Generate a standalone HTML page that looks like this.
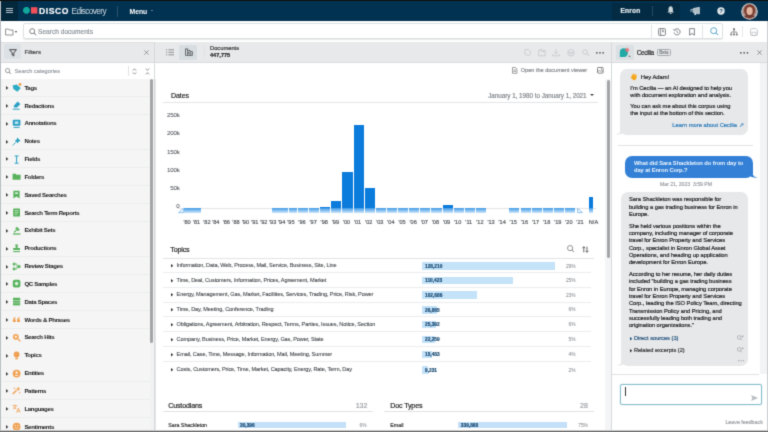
<!DOCTYPE html>
<html><head><meta charset="utf-8"><title>DISCO Ediscovery</title>
<style>
*{box-sizing:border-box;margin:0;padding:0}
html,body{width:768px;height:432px;overflow:hidden;background:#fff}
body{font-family:"Liberation Sans",sans-serif;position:relative;color:#222;font-size:6px}
.a{position:absolute}
.t{position:absolute;white-space:nowrap;line-height:1;-webkit-text-stroke:0.18px currentColor}
svg{position:absolute;overflow:visible}
#w{position:absolute;left:0;top:0;width:768px;height:432px;overflow:hidden;filter:url(#bl)}
</style></head><body><svg width="0" height="0" style="position:absolute"><filter id="bl" x="0" y="0" width="100%" height="100%" color-interpolation-filters="sRGB"><feConvolveMatrix order="3" kernelMatrix="0.0196 0.1008 0.0196 0.1008 0.5184 0.1008 0.0196 0.1008 0.0196" divisor="1" edgeMode="duplicate" preserveAlpha="true"/></filter></svg><div id="w">
<div class="a" style="left:0px;top:0px;width:768px;height:1px;background:#111;"></div>
<div class="a" style="left:0px;top:1px;width:768px;height:20px;background:#023251;"></div>
<div class="a" style="left:1px;top:1px;width:17px;height:20px;background:#03273b;"></div>
<div class="a" style="left:0px;top:1px;width:1px;height:431px;background:#b9bec2;"></div>
<div class="a" style="left:6px;top:8.2px;width:6.6px;height:0.9px;background:#b4c3cc;"></div>
<div class="a" style="left:6px;top:10.3px;width:6.6px;height:0.9px;background:#b4c3cc;"></div>
<div class="a" style="left:6px;top:12.4px;width:6.6px;height:0.9px;background:#b4c3cc;"></div>
<svg style="left:23px;top:7px" width="15" height="7" viewBox="0 0 15 7"><polygon points="2.1,0.1 4.8,0.1 6.8,2.1 6.8,4.8 4.8,6.8 2.1,6.8 0.1,4.8 0.1,2.1" fill="#12a79c"/><rect x="8" y="0.2" width="6.4" height="6.4" fill="#f0505a"/></svg>
<div class="t" style="left:39px;top:7px;font-size:8.6px;color:#fff;font-weight:bold;letter-spacing:0.55px">DISCO</div>
<div class="t" style="left:71.5px;top:7px;font-size:8.3px;color:#d3dde4;letter-spacing:-0.6px;-webkit-text-stroke:0">Ediscovery</div>
<div class="a" style="left:117.4px;top:5.5px;width:0.8px;height:11.5px;background:#2a526d;"></div>
<div class="t" style="left:129.5px;top:9px;font-size:6.8px;color:#fff;font-weight:bold;-webkit-text-stroke:0">Menu</div>
<div class="a" style="left:150.8px;top:10.4px;width:0;height:0;border-top:1.7px solid #b9c6cf;border-left:1.6px solid transparent;border-right:1.6px solid transparent"></div>
<div class="a" style="left:612px;top:3px;width:68px;height:17px;background:#042b44;border-radius:2px"></div>
<div class="t" style="left:620.5px;top:8px;font-size:6.6px;color:#e9eef2;font-weight:bold;letter-spacing:0.2px">Enron</div>
<div class="a" style="left:651.5px;top:6px;width:0.8px;height:10px;background:#254d68;"></div>
<svg style="left:666.5px;top:6.4px" width="7.4" height="8.6" viewBox="0 0 7.4 8.6"><path d="M3.7 0.3 C2.1 0.3 1.5 1.8 1.5 3.3 L1.5 5.2 L0.5 6.5 L6.9 6.5 L5.9 5.2 L5.9 3.3 C5.9 1.8 5.3 0.3 3.7 0.3 Z" fill="#cdd7dd"/><rect x="2.8" y="7" width="1.8" height="1.1" rx="0.55" fill="#cdd7dd"/></svg>
<svg style="left:690px;top:6.5px" width="11" height="9" viewBox="0 0 11 9"><path d="M3.2 1.6 L9.4 0.3 L9.4 6.9 L3.2 5.6 Z" fill="#aebcc6" stroke="#d5dee4" stroke-width="0.7"/><rect x="0.6" y="2" width="2.2" height="0.8" fill="#cdd7dd"/><rect x="0" y="3.6" width="2.8" height="0.8" fill="#cdd7dd"/><rect x="4.4" y="5.8" width="1.8" height="2.2" fill="#cdd7dd"/></svg>
<svg style="left:717px;top:7px" width="8" height="8" viewBox="0 0 8 8"><circle cx="4" cy="4" r="3.7" fill="#e3e9ed"/><text x="4" y="6.2" font-size="6" font-weight="bold" text-anchor="middle" fill="#05334f" font-family="Liberation Sans">?</text></svg>
<svg style="left:741px;top:2.5px" width="17" height="17" viewBox="0 0 17 17"><defs><clipPath id="av"><circle cx="8.5" cy="8.5" r="7.4"/></clipPath></defs><circle cx="8.5" cy="8.5" r="8.3" fill="#d9d9db"/><g clip-path="url(#av)"><rect width="17" height="17" fill="#a98f8c"/><ellipse cx="8.6" cy="7.4" rx="5.6" ry="6.2" fill="#7c3d2f"/><path d="M2 17 Q3 11 8.5 11.5 Q14 11 15 17 Z" fill="#6f3a30"/><ellipse cx="8.6" cy="8" rx="3.1" ry="3.9" fill="#e3b7a3"/><path d="M5.6 14 Q8.6 17 11.6 14 L12.5 17 H4.6 Z" fill="#d9b3a6"/></g></svg>
<div class="a" style="left:1px;top:21px;width:767px;height:21px;background:#fff;"></div>
<svg style="left:5px;top:27.5px" width="9" height="8" viewBox="0 0 9 8"><path d="M0.6 1 L3.4 1 L4.2 2 L8 2 L8 7 L0.6 7 Z" fill="none" stroke="#666" stroke-width="0.7"/></svg>
<div class="a" style="left:15px;top:30.8px;width:0;height:0;border-top:2.2px solid #444;border-left:1.9px solid transparent;border-right:1.9px solid transparent"></div>
<div class="a" style="left:23px;top:23.4px;width:699.5px;height:15.2px;background:#fff;border:0.8px solid #dde1e4;border-radius:2.5px;box-shadow:0 0.5px 1.2px rgba(0,0,0,.10)"></div>
<svg style="left:29px;top:27.5px" width="8" height="8" viewBox="0 0 8 8"><circle cx="3.2" cy="3.2" r="2.5" fill="none" stroke="#666" stroke-width="0.8"/><path d="M5 5 L7.3 7.3" stroke="#666" stroke-width="0.9"/></svg>
<div class="t" style="left:38px;top:29px;font-size:6.6px;color:#8d9399;">Search documents</div>
<div class="a" style="left:651px;top:24.6px;width:0.7px;height:13.2px;background:#e1e4e7;"></div>
<div class="a" style="left:702.3px;top:24.6px;width:0.7px;height:13.2px;background:#e1e4e7;"></div>
<div class="a" style="left:742px;top:26px;width:0.7px;height:11px;background:#e6e8ea;"></div>
<svg style="left:657.5px;top:27.5px" width="8" height="8" viewBox="0 0 8 8"><rect x="0.6" y="0.6" width="6.8" height="6.8" rx="0.8" fill="none" stroke="#62676c" stroke-width="0.8"/><path d="M2.6 0.6 V7.4 M4 2.2 H6 M4 3.6 H6" stroke="#62676c" stroke-width="0.7" fill="none"/></svg>
<svg style="left:673px;top:27.5px" width="8" height="8" viewBox="0 0 8 8"><path d="M1.4 2.2 A3.1 3.1 0 1 1 1 4.5" fill="none" stroke="#62676c" stroke-width="0.8"/><path d="M0.3 1.2 L1.5 2.6 L3 1.6" fill="none" stroke="#62676c" stroke-width="0.7"/><path d="M4 2.4 V4.2 L5.2 5" fill="none" stroke="#62676c" stroke-width="0.7"/></svg>
<svg style="left:688.5px;top:27.5px" width="6" height="8" viewBox="0 0 6 8"><path d="M0.6 0.6 H5.4 V7.2 L3 5.4 L0.6 7.2 Z" fill="none" stroke="#62676c" stroke-width="0.8"/></svg>
<svg style="left:709.5px;top:27px" width="9" height="9" viewBox="0 0 9 9"><circle cx="3.7" cy="3.7" r="3" fill="none" stroke="#4a9dc4" stroke-width="0.9"/><path d="M5.8 5.8 L8.2 8.2" stroke="#4a9dc4" stroke-width="1"/></svg>
<svg style="left:729.5px;top:27.5px" width="8" height="8" viewBox="0 0 8 8"><rect x="3" y="0.3" width="2" height="2" fill="#777"/><path d="M4 2.3 V4 M1.2 5.6 V4 H6.8 V5.6 M4 4 V5.6" stroke="#777" stroke-width="0.7" fill="none"/><rect x="0.3" y="5.6" width="1.8" height="1.8" fill="#777"/><rect x="3.1" y="5.6" width="1.8" height="1.8" fill="#777"/><rect x="5.9" y="5.6" width="1.8" height="1.8" fill="#777"/></svg>
<svg style="left:749.5px;top:27.5px" width="8" height="8" viewBox="0 0 8 8"><path d="M0.6 1.4 Q0.6 0.6 1.4 0.6 H5.8 L7.4 2.2 V6.6 Q7.4 7.4 6.6 7.4 H1.4 Q0.6 7.4 0.6 6.6 Z" fill="none" stroke="#b6bbc0" stroke-width="0.8"/><rect x="2" y="4.2" width="4" height="3.2" fill="none" stroke="#b6bbc0" stroke-width="0.7"/></svg>
<div class="a" style="left:1px;top:42px;width:153px;height:20px;background:#e8e9eb;"></div>
<div class="a" style="left:1px;top:41.5px;width:767px;height:0.8px;background:#dcdfe2;"></div>
<div class="a" style="left:1px;top:62px;width:767px;height:0.6px;background:#d9dde0;"></div>
<div class="a" style="left:3.6px;top:44.4px;width:17.6px;height:14.8px;background:#dce1e5;border-radius:1.5px"></div>
<svg style="left:8.5px;top:48.5px" width="8" height="8" viewBox="0 0 8 8"><path d="M0.6 0.7 H7.4 L4.8 3.9 V7 L3.2 6 V3.9 Z" fill="none" stroke="#333" stroke-width="0.9" stroke-linejoin="round"/></svg>
<div class="t" style="left:24.6px;top:49px;font-size:6.0px;color:#3c4044;">Filters</div>
<svg style="left:143.5px;top:49.5px" width="5" height="5" viewBox="0 0 5 5"><path d="M0.4 0.4 L4.6 4.6 M4.6 0.4 L0.4 4.6" stroke="#666" stroke-width="0.6"/></svg>
<div class="a" style="left:1px;top:62.5px;width:153px;height:16.5px;background:#fff;"></div>
<svg style="left:5px;top:67.6px" width="6.4" height="6.4" viewBox="0 0 6.4 6.4"><circle cx="2.6" cy="2.6" r="2.1" fill="none" stroke="#6a6f74" stroke-width="0.7"/><path d="M4.1 4.1 L6 6" stroke="#6a6f74" stroke-width="0.8"/></svg>
<div class="t" style="left:14.5px;top:69px;font-size:5.65px;color:#9aa0a6;">Search categories</div>
<div class="a" style="left:127.5px;top:66px;width:0.7px;height:10px;background:#dfe2e5;"></div>
<svg style="left:132px;top:67.5px" width="5" height="7" viewBox="0 0 5 7"><path d="M0.8 2.6 L2.5 0.8 L4.2 2.6 M0.8 4.4 L2.5 6.2 L4.2 4.4" fill="none" stroke="#666" stroke-width="0.7"/></svg>
<svg style="left:145px;top:67.5px" width="5" height="7" viewBox="0 0 5 7"><path d="M0.8 0.6 L2.5 2.4 L4.2 0.6 M0.8 6.4 L2.5 4.6 L4.2 6.4" fill="none" stroke="#666" stroke-width="0.7"/></svg>
<div class="a" style="left:1px;top:78.6px;width:153px;height:0.6px;background:#e3e6e8;"></div>
<div class="a" style="left:1px;top:78.88px;width:149px;height:17.84px;background:#f5f5f5;"></div>
<div class="a" style="left:1px;top:95.92px;width:149px;height:1px;background:#ebecec;"></div>
<svg style="left:5.6px;top:86.10px" width="2.3" height="3.8" viewBox="0 0 2.3 3.8"><path d="M0 0 L2.3 1.9 L0 3.8 Z" fill="#3a3a3a"/></svg>
<svg style="left:11.5px;top:83.2px" width="9.2" height="9.2" viewBox="0 0 9.2 9.2"><path d="M0.6 2.6 L4.6 1.4 L8.8 5 L5.4 8.8 L1.4 6 Z" fill="#2babc5"/><circle cx="8" cy="1.5" r="1.5" fill="#f0a052"/></svg>
<div class="t" style="left:24.4px;top:85px;font-size:6.05px;color:#1f1f1f;font-weight:bold;letter-spacing:-0.3px;-webkit-text-stroke:0.04px currentColor">Tags</div>
<div class="a" style="left:1px;top:96.72px;width:149px;height:17.84px;background:#f5f5f5;"></div>
<div class="a" style="left:1px;top:113.76px;width:149px;height:1px;background:#ebecec;"></div>
<svg style="left:5.6px;top:103.94px" width="2.3" height="3.8" viewBox="0 0 2.3 3.8"><path d="M0 0 L2.3 1.9 L0 3.8 Z" fill="#3a3a3a"/></svg>
<svg style="left:11.5px;top:101.04px" width="9.2" height="9.2" viewBox="0 0 9.2 9.2"><path d="M5.6 0.6 L8.4 3 L5 6.4 L2.2 6.4 L1.6 5 Z" fill="#2aa0c4"/><path d="M0.8 8.2 H7.6" stroke="#2aa0c4" stroke-width="1"/></svg>
<div class="t" style="left:24.4px;top:103px;font-size:6.05px;color:#1f1f1f;font-weight:bold;letter-spacing:-0.3px;-webkit-text-stroke:0.04px currentColor">Redactions</div>
<div class="a" style="left:1px;top:114.56px;width:149px;height:17.84px;background:#f5f5f5;"></div>
<div class="a" style="left:1px;top:131.6px;width:149px;height:1px;background:#ebecec;"></div>
<svg style="left:5.6px;top:121.78px" width="2.3" height="3.8" viewBox="0 0 2.3 3.8"><path d="M0 0 L2.3 1.9 L0 3.8 Z" fill="#3a3a3a"/></svg>
<svg style="left:11.5px;top:118.88px" width="9.2" height="9.2" viewBox="0 0 9.2 9.2"><rect x="0.8" y="0.8" width="7.6" height="6" rx="0.8" fill="#2a9fc2"/><rect x="2.8" y="2.4" width="3.6" height="2.6" fill="#bfe6f2"/><path d="M1.6 8.4 H7.6" stroke="#2a9fc2" stroke-width="1"/></svg>
<div class="t" style="left:24.4px;top:120px;font-size:6.05px;color:#1f1f1f;font-weight:bold;letter-spacing:-0.3px;-webkit-text-stroke:0.04px currentColor">Annotations</div>
<div class="a" style="left:1px;top:132.4px;width:149px;height:17.84px;background:#f5f5f5;"></div>
<div class="a" style="left:1px;top:149.44px;width:149px;height:1px;background:#ebecec;"></div>
<svg style="left:5.6px;top:139.62px" width="2.3" height="3.8" viewBox="0 0 2.3 3.8"><path d="M0 0 L2.3 1.9 L0 3.8 Z" fill="#3a3a3a"/></svg>
<svg style="left:11.5px;top:136.72px" width="9.2" height="9.2" viewBox="0 0 9.2 9.2"><path d="M5.2 0.6 L8.6 4 L6.8 4.4 L5.6 6.2 L3 3.6 L4.8 2.4 Z" fill="#2a9fc2"/><path d="M3.8 5.2 L0.8 8.4" stroke="#2a9fc2" stroke-width="0.9"/></svg>
<div class="t" style="left:24.4px;top:138px;font-size:6.05px;color:#1f1f1f;font-weight:bold;letter-spacing:-0.3px;-webkit-text-stroke:0.04px currentColor">Notes</div>
<div class="a" style="left:1px;top:150.24px;width:149px;height:17.84px;background:#f5f5f5;"></div>
<div class="a" style="left:1px;top:167.28px;width:149px;height:1px;background:#ebecec;"></div>
<svg style="left:5.6px;top:157.46px" width="2.3" height="3.8" viewBox="0 0 2.3 3.8"><path d="M0 0 L2.3 1.9 L0 3.8 Z" fill="#3a3a3a"/></svg>
<svg style="left:11.5px;top:154.56px" width="9.2" height="9.2" viewBox="0 0 9.2 9.2"><path d="M2.6 1 H6.6 M2.6 8.2 H6.6 M4.6 1 V8.2" stroke="#2a9fc2" stroke-width="1" fill="none"/></svg>
<div class="t" style="left:24.4px;top:156px;font-size:6.05px;color:#1f1f1f;font-weight:bold;letter-spacing:-0.3px;-webkit-text-stroke:0.04px currentColor">Fields</div>
<div class="a" style="left:1px;top:168.08px;width:149px;height:17.84px;background:#f5f5f5;"></div>
<div class="a" style="left:1px;top:185.12px;width:149px;height:1px;background:#ebecec;"></div>
<svg style="left:5.6px;top:175.30px" width="2.3" height="3.8" viewBox="0 0 2.3 3.8"><path d="M0 0 L2.3 1.9 L0 3.8 Z" fill="#3a3a3a"/></svg>
<svg style="left:11.5px;top:172.4px" width="9.2" height="9.2" viewBox="0 0 9.2 9.2"><path d="M0.6 1.8 H3.6 L4.4 2.8 H8.6 V7.8 H0.6 Z" fill="#58b25d"/></svg>
<div class="t" style="left:24.4px;top:174px;font-size:6.05px;color:#1f1f1f;font-weight:bold;letter-spacing:-0.3px;-webkit-text-stroke:0.04px currentColor">Folders</div>
<div class="a" style="left:1px;top:185.92px;width:149px;height:17.84px;background:#f5f5f5;"></div>
<div class="a" style="left:1px;top:202.96px;width:149px;height:1px;background:#ebecec;"></div>
<svg style="left:5.6px;top:193.14px" width="2.3" height="3.8" viewBox="0 0 2.3 3.8"><path d="M0 0 L2.3 1.9 L0 3.8 Z" fill="#3a3a3a"/></svg>
<svg style="left:11.5px;top:190.24px" width="9.2" height="9.2" viewBox="0 0 9.2 9.2"><path d="M1.4 0.8 H7.6 V8.4 L4.5 6.4 L1.4 8.4 Z" fill="#58b25d"/><rect x="3" y="2.4" width="3" height="1.6" fill="#d8f0dc"/></svg>
<div class="t" style="left:24.4px;top:192px;font-size:6.05px;color:#1f1f1f;font-weight:bold;letter-spacing:-0.3px;-webkit-text-stroke:0.04px currentColor">Saved Searches</div>
<div class="a" style="left:1px;top:203.76px;width:149px;height:17.84px;background:#f5f5f5;"></div>
<div class="a" style="left:1px;top:220.8px;width:149px;height:1px;background:#ebecec;"></div>
<svg style="left:5.6px;top:210.98px" width="2.3" height="3.8" viewBox="0 0 2.3 3.8"><path d="M0 0 L2.3 1.9 L0 3.8 Z" fill="#3a3a3a"/></svg>
<svg style="left:11.5px;top:208.08px" width="9.2" height="9.2" viewBox="0 0 9.2 9.2"><rect x="1.2" y="0.6" width="6.8" height="8" rx="0.6" fill="#58b25d"/><path d="M2.6 2.6 H6.6 M2.6 4.4 H6.6 M2.6 6.2 H5.4" stroke="#d8f0dc" stroke-width="0.7"/></svg>
<div class="t" style="left:24.4px;top:210px;font-size:6.05px;color:#1f1f1f;font-weight:bold;letter-spacing:-0.3px;-webkit-text-stroke:0.04px currentColor">Search Term Reports</div>
<div class="a" style="left:1px;top:221.6px;width:149px;height:17.84px;background:#f5f5f5;"></div>
<div class="a" style="left:1px;top:238.64px;width:149px;height:1px;background:#ebecec;"></div>
<svg style="left:5.6px;top:228.82px" width="2.3" height="3.8" viewBox="0 0 2.3 3.8"><path d="M0 0 L2.3 1.9 L0 3.8 Z" fill="#3a3a3a"/></svg>
<svg style="left:11.5px;top:225.92px" width="9.2" height="9.2" viewBox="0 0 9.2 9.2"><path d="M4.8 0.8 L7.8 3.4 L6.2 5.2 L3.2 2.6 Z" fill="#58b25d"/><path d="M4.6 4 L2 6.4" stroke="#58b25d" stroke-width="1.1"/><path d="M1 8 H8.4" stroke="#58b25d" stroke-width="1.3"/></svg>
<div class="t" style="left:24.4px;top:227px;font-size:6.05px;color:#1f1f1f;font-weight:bold;letter-spacing:-0.3px;-webkit-text-stroke:0.04px currentColor">Exhibit Sets</div>
<div class="a" style="left:1px;top:239.44px;width:149px;height:17.84px;background:#f5f5f5;"></div>
<div class="a" style="left:1px;top:256.48px;width:149px;height:1px;background:#ebecec;"></div>
<svg style="left:5.6px;top:246.66px" width="2.3" height="3.8" viewBox="0 0 2.3 3.8"><path d="M0 0 L2.3 1.9 L0 3.8 Z" fill="#3a3a3a"/></svg>
<svg style="left:11.5px;top:243.76px" width="9.2" height="9.2" viewBox="0 0 9.2 9.2"><path d="M3.2 0.6 H6 L5.4 4 H8 V6 H1.2 V4 H3.8 Z" fill="#58b25d"/><path d="M1.2 7.6 H8" stroke="#58b25d" stroke-width="1.1"/></svg>
<div class="t" style="left:24.4px;top:245px;font-size:6.05px;color:#1f1f1f;font-weight:bold;letter-spacing:-0.3px;-webkit-text-stroke:0.04px currentColor">Productions</div>
<div class="a" style="left:1px;top:257.28px;width:149px;height:17.84px;background:#f5f5f5;"></div>
<div class="a" style="left:1px;top:274.32px;width:149px;height:1px;background:#ebecec;"></div>
<svg style="left:5.6px;top:264.50px" width="2.3" height="3.8" viewBox="0 0 2.3 3.8"><path d="M0 0 L2.3 1.9 L0 3.8 Z" fill="#3a3a3a"/></svg>
<svg style="left:11.5px;top:261.6px" width="9.2" height="9.2" viewBox="0 0 9.2 9.2"><rect x="0.8" y="0.8" width="2.6" height="2.6" fill="#58b25d"/><rect x="0.8" y="5.6" width="2.6" height="2.6" fill="#58b25d"/><rect x="5.6" y="3.2" width="2.8" height="2.8" fill="#58b25d"/><path d="M3.4 2 H5 V7 H3.4 M5 4.6 H5.6" stroke="#58b25d" stroke-width="0.7" fill="none"/></svg>
<div class="t" style="left:24.4px;top:263px;font-size:6.05px;color:#1f1f1f;font-weight:bold;letter-spacing:-0.3px;-webkit-text-stroke:0.04px currentColor">Review Stages</div>
<div class="a" style="left:1px;top:275.12px;width:149px;height:17.84px;background:#f5f5f5;"></div>
<div class="a" style="left:1px;top:292.16px;width:149px;height:1px;background:#ebecec;"></div>
<svg style="left:5.6px;top:282.34px" width="2.3" height="3.8" viewBox="0 0 2.3 3.8"><path d="M0 0 L2.3 1.9 L0 3.8 Z" fill="#3a3a3a"/></svg>
<svg style="left:11.5px;top:279.44px" width="9.2" height="9.2" viewBox="0 0 9.2 9.2"><rect x="0.8" y="0.8" width="7.6" height="7.6" rx="2" fill="#58b25d"/><circle cx="4.6" cy="4.6" r="1.8" fill="#d8f0dc"/></svg>
<div class="t" style="left:24.4px;top:281px;font-size:6.05px;color:#1f1f1f;font-weight:bold;letter-spacing:-0.3px;-webkit-text-stroke:0.04px currentColor">QC Samples</div>
<div class="a" style="left:1px;top:292.96px;width:149px;height:17.84px;background:#f5f5f5;"></div>
<div class="a" style="left:1px;top:310.0px;width:149px;height:1px;background:#ebecec;"></div>
<svg style="left:5.6px;top:300.18px" width="2.3" height="3.8" viewBox="0 0 2.3 3.8"><path d="M0 0 L2.3 1.9 L0 3.8 Z" fill="#3a3a3a"/></svg>
<svg style="left:11.5px;top:297.28px" width="9.2" height="9.2" viewBox="0 0 9.2 9.2"><rect x="1" y="0.8" width="7.2" height="2.2" fill="#58b25d"/><rect x="1" y="3.5" width="7.2" height="2.2" fill="#58b25d"/><rect x="1" y="6.2" width="7.2" height="2.2" fill="#58b25d"/></svg>
<div class="t" style="left:24.4px;top:299px;font-size:6.05px;color:#1f1f1f;font-weight:bold;letter-spacing:-0.3px;-webkit-text-stroke:0.04px currentColor">Data Spaces</div>
<div class="a" style="left:1px;top:310.8px;width:149px;height:17.84px;background:#f5f5f5;"></div>
<div class="a" style="left:1px;top:327.84px;width:149px;height:1px;background:#ebecec;"></div>
<svg style="left:5.6px;top:318.02px" width="2.3" height="3.8" viewBox="0 0 2.3 3.8"><path d="M0 0 L2.3 1.9 L0 3.8 Z" fill="#3a3a3a"/></svg>
<svg style="left:11.5px;top:315.12px" width="9.2" height="9.2" viewBox="0 0 9.2 9.2"><path d="M0.8 7 Q0.6 3 3.2 2 L3.6 3 Q2.6 3.6 2.6 4.6 H3.8 V7 Z M5 7 Q4.8 3 7.4 2 L7.8 3 Q6.8 3.6 6.8 4.6 H8 V7 Z" fill="#f0a052"/></svg>
<div class="t" style="left:24.4px;top:317px;font-size:6.05px;color:#1f1f1f;font-weight:bold;letter-spacing:-0.3px;-webkit-text-stroke:0.04px currentColor">Words &amp; Phrases</div>
<div class="a" style="left:1px;top:328.64px;width:149px;height:17.84px;background:#f5f5f5;"></div>
<div class="a" style="left:1px;top:345.68px;width:149px;height:1px;background:#ebecec;"></div>
<svg style="left:5.6px;top:335.86px" width="2.3" height="3.8" viewBox="0 0 2.3 3.8"><path d="M0 0 L2.3 1.9 L0 3.8 Z" fill="#3a3a3a"/></svg>
<svg style="left:11.5px;top:332.96px" width="9.2" height="9.2" viewBox="0 0 9.2 9.2"><circle cx="3.8" cy="3.8" r="2.9" fill="#f0a052"/><circle cx="3.8" cy="3.8" r="1.3" fill="#fde9d2"/><path d="M6 6 L8.4 8.4" stroke="#f0a052" stroke-width="1.3"/></svg>
<div class="t" style="left:24.4px;top:334px;font-size:6.05px;color:#1f1f1f;font-weight:bold;letter-spacing:-0.3px;-webkit-text-stroke:0.04px currentColor">Search Hits</div>
<div class="a" style="left:1px;top:346.48px;width:149px;height:17.84px;background:#f5f5f5;"></div>
<div class="a" style="left:1px;top:363.52px;width:149px;height:1px;background:#ebecec;"></div>
<svg style="left:5.6px;top:353.70px" width="2.3" height="3.8" viewBox="0 0 2.3 3.8"><path d="M0 0 L2.3 1.9 L0 3.8 Z" fill="#3a3a3a"/></svg>
<svg style="left:11.5px;top:350.8px" width="9.2" height="9.2" viewBox="0 0 9.2 9.2"><circle cx="4.6" cy="3.4" r="2.9" fill="#f0a052"/><rect x="3.4" y="6.4" width="2.4" height="2" fill="#f0a052"/></svg>
<div class="t" style="left:24.4px;top:352px;font-size:6.05px;color:#1f1f1f;font-weight:bold;letter-spacing:-0.3px;-webkit-text-stroke:0.04px currentColor">Topics</div>
<div class="a" style="left:1px;top:364.32px;width:149px;height:17.84px;background:#f5f5f5;"></div>
<div class="a" style="left:1px;top:381.36px;width:149px;height:1px;background:#ebecec;"></div>
<svg style="left:5.6px;top:371.54px" width="2.3" height="3.8" viewBox="0 0 2.3 3.8"><path d="M0 0 L2.3 1.9 L0 3.8 Z" fill="#3a3a3a"/></svg>
<svg style="left:11.5px;top:368.64px" width="9.2" height="9.2" viewBox="0 0 9.2 9.2"><circle cx="4.6" cy="4.6" r="3.9" fill="#f0a052"/><circle cx="4.6" cy="3.6" r="1.3" fill="#fde9d2"/><path d="M2.4 7 Q4.6 4.6 6.8 7 Z" fill="#fde9d2"/></svg>
<div class="t" style="left:24.4px;top:370px;font-size:6.05px;color:#1f1f1f;font-weight:bold;letter-spacing:-0.3px;-webkit-text-stroke:0.04px currentColor">Entities</div>
<div class="a" style="left:1px;top:382.16px;width:149px;height:17.84px;background:#f5f5f5;"></div>
<div class="a" style="left:1px;top:399.2px;width:149px;height:1px;background:#ebecec;"></div>
<svg style="left:5.6px;top:389.38px" width="2.3" height="3.8" viewBox="0 0 2.3 3.8"><path d="M0 0 L2.3 1.9 L0 3.8 Z" fill="#3a3a3a"/></svg>
<svg style="left:11.5px;top:386.48px" width="9.2" height="9.2" viewBox="0 0 9.2 9.2"><path d="M0.8 8 L4.6 4.2" stroke="#f0a052" stroke-width="1.5"/><path d="M6.2 0.4 L6.9 2.2 L8.8 2.9 L6.9 3.6 L6.2 5.4 L5.5 3.6 L3.6 2.9 L5.5 2.2 Z" fill="#f0a052"/><circle cx="2.4" cy="2.2" r="0.7" fill="#f0a052"/><circle cx="7.6" cy="6.8" r="0.7" fill="#f0a052"/></svg>
<div class="t" style="left:24.4px;top:388px;font-size:6.05px;color:#1f1f1f;font-weight:bold;letter-spacing:-0.3px;-webkit-text-stroke:0.04px currentColor">Patterns</div>
<div class="a" style="left:1px;top:400.0px;width:149px;height:17.84px;background:#f5f5f5;"></div>
<div class="a" style="left:1px;top:417.04px;width:149px;height:1px;background:#ebecec;"></div>
<svg style="left:5.6px;top:407.22px" width="2.3" height="3.8" viewBox="0 0 2.3 3.8"><path d="M0 0 L2.3 1.9 L0 3.8 Z" fill="#3a3a3a"/></svg>
<svg style="left:11.5px;top:404.32px" width="9.2" height="9.2" viewBox="0 0 9.2 9.2"><path d="M0.6 1.6 H5 M2.8 0.6 V1.6 M1.2 5 Q3.8 4 4.2 1.6 M1.6 2.6 Q2.4 4.4 4.4 5" stroke="#f0a052" stroke-width="0.8" fill="none"/><path d="M4.6 8.6 L6.4 4.2 L8.2 8.6 M5.2 7.2 H7.6" stroke="#f0a052" stroke-width="0.8" fill="none"/></svg>
<div class="t" style="left:24.4px;top:406px;font-size:6.05px;color:#1f1f1f;font-weight:bold;letter-spacing:-0.3px;-webkit-text-stroke:0.04px currentColor">Languages</div>
<div class="a" style="left:1px;top:417.84px;width:149px;height:17.84px;background:#f5f5f5;"></div>
<div class="a" style="left:1px;top:434.88px;width:149px;height:1px;background:#ebecec;"></div>
<svg style="left:5.6px;top:425.06px" width="2.3" height="3.8" viewBox="0 0 2.3 3.8"><path d="M0 0 L2.3 1.9 L0 3.8 Z" fill="#3a3a3a"/></svg>
<svg style="left:11.5px;top:422.16px" width="9.2" height="9.2" viewBox="0 0 9.2 9.2"><circle cx="4.6" cy="4.6" r="3.9" fill="#f0a052"/><circle cx="3.2" cy="3.6" r="0.6" fill="#fff"/><circle cx="6" cy="3.6" r="0.6" fill="#fff"/><path d="M2.8 5.6 Q4.6 7.4 6.4 5.6" stroke="#fff" stroke-width="0.6" fill="none"/></svg>
<div class="t" style="left:24.4px;top:424px;font-size:6.05px;color:#1f1f1f;font-weight:bold;letter-spacing:-0.3px;-webkit-text-stroke:0.04px currentColor">Sentiments</div>
<div class="a" style="left:150px;top:79px;width:4px;height:353px;background:#f1f2f3;"></div>
<div class="a" style="left:150px;top:79px;width:3.2px;height:264px;background:#a3a5a7;border-radius:1.5px"></div>
<div class="a" style="left:154px;top:42px;width:0.8px;height:390px;background:#d6dadd;"></div>
<div class="a" style="left:154.8px;top:42px;width:456.5px;height:20px;background:#e8e9eb;"></div>
<svg style="left:166px;top:48.5px" width="8" height="7" viewBox="0 0 8 7"><path d="M0 0.8 H1.2 M0 3.3 H1.2 M0 5.8 H1.2 M2.4 0.8 H8 M2.4 3.3 H8 M2.4 5.8 H8" stroke="#777" stroke-width="0.8"/></svg>
<div class="a" style="left:179px;top:45px;width:18px;height:14.5px;background:#d8dde2;border-radius:1.5px"></div>
<svg style="left:184.5px;top:48px" width="8" height="8" viewBox="0 0 8 8"><path d="M0.5 0.8 H2.6 V7.4 H0.5 Z M2.6 2.4 H5 V7.4 H2.6 M5 3.6 H7.4 V7.4 H5 M3.4 4 V6 M5.9 5 V6.4" fill="none" stroke="#4d5257" stroke-width="0.8"/></svg>
<div class="a" style="left:203.6px;top:46px;width:0.7px;height:12px;background:#dfe2e5;"></div>
<div class="t" style="left:210px;top:46px;font-size:5.75px;color:#333;">Documents</div>
<div class="t" style="left:210px;top:53px;font-size:5.6px;color:#222;font-weight:bold;">447,775</div>
<svg style="left:524px;top:49px" width="7" height="7.5" viewBox="0 0 7 7.5"><path d="M1.2 0.6 H4.4 L6.4 2.6 V5 L4.4 7 L3 6 L1.2 5.6 L0.6 3 Z" fill="none" stroke="#c3c8cc" stroke-width="0.8"/></svg>
<svg style="left:538px;top:49px" width="8" height="7.5" viewBox="0 0 8 7.5"><path d="M0.6 1.6 H3 L3.8 2.6 H7.2 V6.8 H0.6 Z M1.8 1.4 V0.6 H4 L4.6 1.4 H7.6" fill="none" stroke="#c3c8cc" stroke-width="0.8"/></svg>
<svg style="left:552px;top:49px" width="8" height="7.5" viewBox="0 0 8 7.5"><path d="M4 0.4 V4.6 M2.2 3 L4 4.8 L5.8 3 M0.6 5 V6.8 H7.4 V5" fill="none" stroke="#c3c8cc" stroke-width="0.8"/></svg>
<svg style="left:567px;top:49px" width="8" height="7.5" viewBox="0 0 8 7.5"><circle cx="4" cy="3.8" r="3.3" fill="none" stroke="#c3c8cc" stroke-width="0.8"/><path d="M1 3.4 H7 M2.4 5 H5.6" stroke="#c3c8cc" stroke-width="0.8"/></svg>
<svg style="left:582px;top:49px" width="8" height="7.5" viewBox="0 0 8 7.5"><circle cx="3" cy="3" r="2.3" fill="none" stroke="#c3c8cc" stroke-width="0.8"/><path d="M4.6 4.6 L7.2 7 M5.8 5.8 L6.8 4.8" stroke="#c3c8cc" stroke-width="0.8" fill="none"/></svg>
<svg style="left:596.2px;top:51.949999999999996px" width="8.0" height="1.7"><circle cx="0.85" cy="0.85" r="0.85" fill="#4c5054"/><circle cx="4.0" cy="0.85" r="0.85" fill="#4c5054"/><circle cx="7.1499999999999995" cy="0.85" r="0.85" fill="#4c5054"/></svg>
<div class="a" style="left:154.8px;top:62.6px;width:456.5px;height:16.2px;background:#fff;"></div>
<svg style="left:511.5px;top:67.2px" width="5.5" height="6.8" viewBox="0 0 5.5 6.8"><path d="M0.5 0.5 H3.5 L5 2 V6.3 H0.5 Z M1.5 3 H4 M1.5 4.4 H4" fill="none" stroke="#777" stroke-width="0.7"/></svg>
<div class="t" style="left:520.8px;top:68px;font-size:5.55px;color:#858a8f;">Open the document viewer</div>
<svg style="left:597px;top:67.2px" width="6.6" height="6.6" viewBox="0 0 6.6 6.6"><rect x="0.5" y="0.5" width="5.6" height="5.6" rx="0.6" fill="none" stroke="#555" stroke-width="0.7"/><path d="M0.6 5 L2.4 3.2 L3.6 4.4 L4.6 3.6 L6 5" fill="none" stroke="#555" stroke-width="0.6"/><circle cx="4.4" cy="2" r="0.6" fill="#555"/></svg>
<div class="a" style="left:154.8px;top:78.7px;width:456.5px;height:0.6px;background:#e1e4e7;"></div>
<div class="a" style="left:154.8px;top:79.3px;width:450px;height:352px;background:#fff;"></div>
<div class="a" style="left:155px;top:79.3px;width:0.8px;height:352px;background:#e4e7ea;"></div>
<div class="a" style="left:604.6px;top:79.3px;width:6.6px;height:352px;background:#f4f5f6;"></div>
<div class="a" style="left:607px;top:79.5px;width:3.1px;height:178.4px;background:#a3a5a7;border-radius:1.5px"></div>
<div class="a" style="left:611px;top:42px;width:0.8px;height:390px;background:#d6dadd;"></div>
<div class="t" style="left:171px;top:92px;font-size:7.05px;color:#222;letter-spacing:-0.1px">Dates</div>
<div class="t" style="left:488.2px;top:93px;font-size:6.3px;color:#82878c;letter-spacing:-0.02px">January 1, 1980 to January 1, 2021</div>
<div class="a" style="left:590.2px;top:94.2px;width:0;height:0;border-top:2.6px solid #444;border-left:2.3px solid transparent;border-right:2.3px solid transparent"></div>
<div class="a" style="left:163.3px;top:102px;width:435px;height:0.7px;background:#e2e4e6;"></div>
<div class="t" style="left:119.6px;width:60px;text-align:right;top:112px;font-size:6.2px;color:#50555a;letter-spacing:-0.2px;-webkit-text-stroke:0.05px currentColor">250k</div>
<div class="t" style="left:119.6px;width:60px;text-align:right;top:130px;font-size:6.2px;color:#50555a;letter-spacing:-0.2px;-webkit-text-stroke:0.05px currentColor">200k</div>
<div class="t" style="left:119.6px;width:60px;text-align:right;top:149px;font-size:6.2px;color:#50555a;letter-spacing:-0.2px;-webkit-text-stroke:0.05px currentColor">150k</div>
<div class="t" style="left:119.6px;width:60px;text-align:right;top:167px;font-size:6.2px;color:#50555a;letter-spacing:-0.2px;-webkit-text-stroke:0.05px currentColor">100k</div>
<div class="t" style="left:119.6px;width:60px;text-align:right;top:185px;font-size:6.2px;color:#50555a;letter-spacing:-0.2px;-webkit-text-stroke:0.05px currentColor">50k</div>
<div class="t" style="left:119.6px;width:60px;text-align:right;top:203px;font-size:6.2px;color:#50555a;-webkit-text-stroke:0.05px currentColor">0</div>
<div class="a" style="left:178px;top:208px;width:418px;height:0.6px;background:#e2e5e8;"></div>
<div class="a" style="left:183.6px;top:207.7px;width:8.3px;height:0.6px;background:#0b7bdc;"></div>
<div class="a" style="left:183.60px;top:208.3px;width:8.3px;height:4.6px;background:linear-gradient(#3f9ae6,#cfe6fa)"></div>
<div class="a" style="left:192.3px;top:207.7px;width:8.3px;height:0.6px;background:#0b7bdc;"></div>
<div class="a" style="left:192.30px;top:208.3px;width:8.3px;height:4.6px;background:linear-gradient(#3f9ae6,#cfe6fa)"></div>
<div class="a" style="left:272.0px;top:207.7px;width:8.1px;height:0.6px;background:#0b7bdc;"></div>
<div class="a" style="left:272.00px;top:208.3px;width:8.1px;height:4.6px;background:linear-gradient(#3f9ae6,#cfe6fa)"></div>
<div class="a" style="left:280.4px;top:207.7px;width:8.1px;height:0.6px;background:#0b7bdc;"></div>
<div class="a" style="left:280.40px;top:208.3px;width:8.1px;height:4.6px;background:linear-gradient(#3f9ae6,#cfe6fa)"></div>
<div class="a" style="left:288.8px;top:207.7px;width:8.1px;height:0.6px;background:#0b7bdc;"></div>
<div class="a" style="left:288.80px;top:208.3px;width:8.1px;height:4.6px;background:linear-gradient(#3f9ae6,#cfe6fa)"></div>
<div class="a" style="left:297.9px;top:207.7px;width:10.1px;height:0.6px;background:#0b7bdc;"></div>
<div class="a" style="left:297.90px;top:208.3px;width:10.1px;height:4.6px;background:linear-gradient(#3f9ae6,#cfe6fa)"></div>
<div class="a" style="left:309.03px;top:207.7px;width:10.1px;height:0.6px;background:#0b7bdc;"></div>
<div class="a" style="left:309.03px;top:208.3px;width:10.1px;height:4.6px;background:linear-gradient(#3f9ae6,#cfe6fa)"></div>
<div class="a" style="left:320.16px;top:207.0px;width:10.1px;height:1.3px;background:#0b7bdc;"></div>
<div class="a" style="left:320.16px;top:208.3px;width:10.1px;height:4.6px;background:linear-gradient(#3f9ae6,#cfe6fa)"></div>
<div class="a" style="left:331.29px;top:201.3px;width:10.1px;height:7.0px;background:#0b7bdc;"></div>
<div class="a" style="left:331.29px;top:208.3px;width:10.1px;height:4.6px;background:linear-gradient(#3f9ae6,#cfe6fa)"></div>
<div class="a" style="left:342.42px;top:171.5px;width:10.1px;height:36.8px;background:#0b7bdc;"></div>
<div class="a" style="left:342.42px;top:208.3px;width:10.1px;height:4.6px;background:linear-gradient(#3f9ae6,#cfe6fa)"></div>
<div class="a" style="left:353.55px;top:125.0px;width:10.1px;height:83.3px;background:#0b7bdc;"></div>
<div class="a" style="left:353.55px;top:208.3px;width:10.1px;height:4.6px;background:linear-gradient(#3f9ae6,#cfe6fa)"></div>
<div class="a" style="left:364.68px;top:187.6px;width:10.1px;height:20.7px;background:#0b7bdc;"></div>
<div class="a" style="left:364.68px;top:208.3px;width:10.1px;height:4.6px;background:linear-gradient(#3f9ae6,#cfe6fa)"></div>
<div class="a" style="left:375.81px;top:207.8px;width:10.1px;height:0.5px;background:#0b7bdc;"></div>
<div class="a" style="left:375.81px;top:208.3px;width:10.1px;height:4.6px;background:linear-gradient(#3f9ae6,#cfe6fa)"></div>
<div class="a" style="left:386.94px;top:207.8px;width:10.1px;height:0.5px;background:#0b7bdc;"></div>
<div class="a" style="left:386.94px;top:208.3px;width:10.1px;height:4.6px;background:linear-gradient(#3f9ae6,#cfe6fa)"></div>
<div class="a" style="left:398.07px;top:207.8px;width:10.1px;height:0.5px;background:#0b7bdc;"></div>
<div class="a" style="left:398.07px;top:208.3px;width:10.1px;height:4.6px;background:linear-gradient(#3f9ae6,#cfe6fa)"></div>
<div class="a" style="left:409.2px;top:207.8px;width:10.1px;height:0.5px;background:#0b7bdc;"></div>
<div class="a" style="left:409.20px;top:208.3px;width:10.1px;height:4.6px;background:linear-gradient(#3f9ae6,#cfe6fa)"></div>
<div class="a" style="left:420.33px;top:207.8px;width:10.1px;height:0.5px;background:#0b7bdc;"></div>
<div class="a" style="left:420.33px;top:208.3px;width:10.1px;height:4.6px;background:linear-gradient(#3f9ae6,#cfe6fa)"></div>
<div class="a" style="left:431.46px;top:207.8px;width:10.1px;height:0.5px;background:#0b7bdc;"></div>
<div class="a" style="left:431.46px;top:208.3px;width:10.1px;height:4.6px;background:linear-gradient(#3f9ae6,#cfe6fa)"></div>
<div class="a" style="left:442.59px;top:204.9px;width:10.1px;height:3.4px;background:#0b7bdc;"></div>
<div class="a" style="left:442.59px;top:208.3px;width:10.1px;height:4.6px;background:linear-gradient(#3f9ae6,#cfe6fa)"></div>
<div class="a" style="left:453.72px;top:207.8px;width:10.1px;height:0.5px;background:#0b7bdc;"></div>
<div class="a" style="left:453.72px;top:208.3px;width:10.1px;height:4.6px;background:linear-gradient(#3f9ae6,#cfe6fa)"></div>
<div class="a" style="left:464.85px;top:207.8px;width:10.1px;height:0.5px;background:#0b7bdc;"></div>
<div class="a" style="left:464.85px;top:208.3px;width:10.1px;height:4.6px;background:linear-gradient(#3f9ae6,#cfe6fa)"></div>
<div class="a" style="left:475.98px;top:207.8px;width:10.1px;height:0.5px;background:#0b7bdc;"></div>
<div class="a" style="left:475.98px;top:208.3px;width:10.1px;height:4.6px;background:linear-gradient(#3f9ae6,#cfe6fa)"></div>
<div class="a" style="left:509.37px;top:207.8px;width:10.1px;height:0.5px;background:#0b7bdc;"></div>
<div class="a" style="left:509.37px;top:208.3px;width:10.1px;height:4.6px;background:linear-gradient(#3f9ae6,#cfe6fa)"></div>
<div class="a" style="left:520.5px;top:207.8px;width:10.1px;height:0.5px;background:#0b7bdc;"></div>
<div class="a" style="left:520.50px;top:208.3px;width:10.1px;height:4.6px;background:linear-gradient(#3f9ae6,#cfe6fa)"></div>
<div class="a" style="left:531.63px;top:207.8px;width:10.1px;height:0.5px;background:#0b7bdc;"></div>
<div class="a" style="left:531.63px;top:208.3px;width:10.1px;height:4.6px;background:linear-gradient(#3f9ae6,#cfe6fa)"></div>
<div class="a" style="left:542.76px;top:207.8px;width:10.1px;height:0.5px;background:#0b7bdc;"></div>
<div class="a" style="left:542.76px;top:208.3px;width:10.1px;height:4.6px;background:linear-gradient(#3f9ae6,#cfe6fa)"></div>
<div class="a" style="left:553.89px;top:207.8px;width:10.1px;height:0.5px;background:#0b7bdc;"></div>
<div class="a" style="left:553.89px;top:208.3px;width:10.1px;height:4.6px;background:linear-gradient(#3f9ae6,#cfe6fa)"></div>
<div class="a" style="left:565.02px;top:207.8px;width:10.1px;height:0.5px;background:#0b7bdc;"></div>
<div class="a" style="left:565.02px;top:208.3px;width:10.1px;height:4.6px;background:linear-gradient(#3f9ae6,#cfe6fa)"></div>
<div class="a" style="left:589.2px;top:197.3px;width:4.1px;height:11px;background:#0b7bdc;"></div>
<div class="a" style="left:589.20px;top:208.3px;width:4.1px;height:4.6px;background:linear-gradient(#3f9ae6,#cfe6fa)"></div>
<svg style="left:178px;top:208px" width="6" height="5" viewBox="0 0 6 5"><path d="M5.4 0.4 L0.6 4.6 H5.4 Z" fill="#fff" stroke="#6fb1ea" stroke-width="0.8"/></svg>
<svg style="left:576.5px;top:208px" width="6" height="5" viewBox="0 0 6 5"><path d="M0.6 0.4 L5.4 4.6 H0.6 Z" fill="#fff" stroke="#6fb1ea" stroke-width="0.8"/></svg>
<div class="t" style="left:147.1px;width:80px;text-align:center;top:220px;font-size:5.6px;color:#555a5f;">'80</div>
<div class="t" style="left:156.5px;width:80px;text-align:center;top:220px;font-size:5.6px;color:#555a5f;">'81</div>
<div class="t" style="left:166.9px;width:80px;text-align:center;top:220px;font-size:5.6px;color:#555a5f;">'82</div>
<div class="t" style="left:175.8px;width:80px;text-align:center;top:220px;font-size:5.6px;color:#555a5f;">'84</div>
<div class="t" style="left:186.3px;width:80px;text-align:center;top:220px;font-size:5.6px;color:#555a5f;">'86</div>
<div class="t" style="left:196px;width:80px;text-align:center;top:220px;font-size:5.6px;color:#555a5f;">'88</div>
<div class="t" style="left:205.4px;width:80px;text-align:center;top:220px;font-size:5.6px;color:#555a5f;">'90</div>
<div class="t" style="left:214.8px;width:80px;text-align:center;top:220px;font-size:5.6px;color:#555a5f;">'91</div>
<div class="t" style="left:223.8px;width:80px;text-align:center;top:220px;font-size:5.6px;color:#555a5f;">'92</div>
<div class="t" style="left:232.7px;width:80px;text-align:center;top:220px;font-size:5.6px;color:#555a5f;">'93</div>
<div class="t" style="left:241.7px;width:80px;text-align:center;top:220px;font-size:5.6px;color:#555a5f;">'94</div>
<div class="t" style="left:250.89999999999998px;width:80px;text-align:center;top:220px;font-size:5.6px;color:#555a5f;">'95</div>
<div class="t" style="left:262.0px;width:80px;text-align:center;top:220px;font-size:5.6px;color:#555a5f;">'96</div>
<div class="t" style="left:273.12px;width:80px;text-align:center;top:220px;font-size:5.6px;color:#555a5f;">'97</div>
<div class="t" style="left:284.24px;width:80px;text-align:center;top:220px;font-size:5.6px;color:#555a5f;">'98</div>
<div class="t" style="left:295.36px;width:80px;text-align:center;top:220px;font-size:5.6px;color:#555a5f;">'99</div>
<div class="t" style="left:306.48px;width:80px;text-align:center;top:220px;font-size:5.6px;color:#555a5f;">'00</div>
<div class="t" style="left:317.6px;width:80px;text-align:center;top:220px;font-size:5.6px;color:#555a5f;">'01</div>
<div class="t" style="left:328.72px;width:80px;text-align:center;top:220px;font-size:5.6px;color:#555a5f;">'02</div>
<div class="t" style="left:339.84px;width:80px;text-align:center;top:220px;font-size:5.6px;color:#555a5f;">'03</div>
<div class="t" style="left:350.96px;width:80px;text-align:center;top:220px;font-size:5.6px;color:#555a5f;">'04</div>
<div class="t" style="left:362.08px;width:80px;text-align:center;top:220px;font-size:5.6px;color:#555a5f;">'05</div>
<div class="t" style="left:373.2px;width:80px;text-align:center;top:220px;font-size:5.6px;color:#555a5f;">'06</div>
<div class="t" style="left:384.32px;width:80px;text-align:center;top:220px;font-size:5.6px;color:#555a5f;">'07</div>
<div class="t" style="left:395.44px;width:80px;text-align:center;top:220px;font-size:5.6px;color:#555a5f;">'08</div>
<div class="t" style="left:406.56px;width:80px;text-align:center;top:220px;font-size:5.6px;color:#555a5f;">'09</div>
<div class="t" style="left:417.68px;width:80px;text-align:center;top:220px;font-size:5.6px;color:#555a5f;">'10</div>
<div class="t" style="left:428.8px;width:80px;text-align:center;top:220px;font-size:5.6px;color:#555a5f;">'11</div>
<div class="t" style="left:439.92px;width:80px;text-align:center;top:220px;font-size:5.6px;color:#555a5f;">'12</div>
<div class="t" style="left:451.04px;width:80px;text-align:center;top:220px;font-size:5.6px;color:#555a5f;">'13</div>
<div class="t" style="left:462.16px;width:80px;text-align:center;top:220px;font-size:5.6px;color:#555a5f;">'14</div>
<div class="t" style="left:473.28px;width:80px;text-align:center;top:220px;font-size:5.6px;color:#555a5f;">'15</div>
<div class="t" style="left:484.4px;width:80px;text-align:center;top:220px;font-size:5.6px;color:#555a5f;">'16</div>
<div class="t" style="left:495.52px;width:80px;text-align:center;top:220px;font-size:5.6px;color:#555a5f;">'17</div>
<div class="t" style="left:506.64px;width:80px;text-align:center;top:220px;font-size:5.6px;color:#555a5f;">'18</div>
<div class="t" style="left:517.76px;width:80px;text-align:center;top:220px;font-size:5.6px;color:#555a5f;">'19</div>
<div class="t" style="left:528.88px;width:80px;text-align:center;top:220px;font-size:5.6px;color:#555a5f;">'20</div>
<div class="t" style="left:540.0px;width:80px;text-align:center;top:220px;font-size:5.6px;color:#555a5f;">'21</div>
<div class="t" style="left:553.5px;width:80px;text-align:center;top:220px;font-size:5.6px;color:#555a5f;">N/A</div>
<div class="t" style="left:170.3px;top:246px;font-size:7.2px;color:#222;letter-spacing:-0.2px">Topics</div>
<svg style="left:566.6px;top:245.2px" width="7.4" height="7.4" viewBox="0 0 7.4 7.4"><circle cx="3.1" cy="3.1" r="2.6" fill="none" stroke="#666" stroke-width="0.7"/><path d="M5 5 L7.1 7.1" stroke="#666" stroke-width="0.8"/></svg>
<svg style="left:582.3px;top:245.5px" width="7" height="7" viewBox="0 0 7 7"><path d="M1.8 6.4 V0.8 M0.4 2.2 L1.8 0.7 L3.2 2.2 M5 0.6 V6.2 M3.6 4.8 L5 6.3 L6.4 4.8" fill="none" stroke="#444" stroke-width="0.8"/></svg>
<div class="a" style="left:163.3px;top:257.6px;width:431.2px;height:0.7px;background:#e1e3e5;"></div>
<svg style="left:171.3px;top:264.00px" width="2.3" height="3.6" viewBox="0 0 2.3 3.6"><path d="M0 0 L2.3 1.8 L0 3.6 Z" fill="#333"/></svg>
<div class="t" style="left:176.6px;top:263px;font-size:5.55px;color:#3e4246;letter-spacing:-0.1px;-webkit-text-stroke:0.08px currentColor">Information, Data, Web, Process, Mail, Service, Business, Site, Line</div>
<div class="a" style="left:422px;top:262.1px;width:133px;height:7.6px;background:#c4e2f8;"></div>
<div class="t" style="left:425px;top:265px;font-size:4.8px;color:#164872;font-weight:bold;">128,210</div>
<div class="t" style="left:515.5px;width:60px;text-align:right;top:265px;font-size:4.8px;color:#777c81;-webkit-text-stroke:0">29%</div>
<div class="a" style="left:163.3px;top:272.1px;width:428px;height:0.6px;background:#ecedee;"></div>
<svg style="left:171.3px;top:278.50px" width="2.3" height="3.6" viewBox="0 0 2.3 3.6"><path d="M0 0 L2.3 1.8 L0 3.6 Z" fill="#333"/></svg>
<div class="t" style="left:176.6px;top:278px;font-size:5.55px;color:#3e4246;letter-spacing:-0.1px;-webkit-text-stroke:0.08px currentColor">Time, Deal, Customers, Information, Prices, Agreement, Market</div>
<div class="a" style="left:422px;top:276.6px;width:91.2px;height:7.6px;background:#c4e2f8;"></div>
<div class="t" style="left:425px;top:279px;font-size:4.8px;color:#164872;font-weight:bold;">110,423</div>
<div class="t" style="left:515.5px;width:60px;text-align:right;top:279px;font-size:4.8px;color:#777c81;-webkit-text-stroke:0">25%</div>
<div class="a" style="left:163.3px;top:286.9px;width:428px;height:0.6px;background:#ecedee;"></div>
<svg style="left:171.3px;top:293.10px" width="2.3" height="3.6" viewBox="0 0 2.3 3.6"><path d="M0 0 L2.3 1.8 L0 3.6 Z" fill="#333"/></svg>
<div class="t" style="left:176.6px;top:292px;font-size:5.55px;color:#3e4246;letter-spacing:-0.1px;-webkit-text-stroke:0.08px currentColor">Energy, Management, Gas, Market, Facilities, Services, Trading, Price, Risk, Power</div>
<div class="a" style="left:422px;top:291.2px;width:54.7px;height:7.6px;background:#c4e2f8;"></div>
<div class="t" style="left:425px;top:294px;font-size:4.8px;color:#164872;font-weight:bold;">102,686</div>
<div class="t" style="left:515.5px;width:60px;text-align:right;top:294px;font-size:4.8px;color:#777c81;-webkit-text-stroke:0">23%</div>
<div class="a" style="left:163.3px;top:301.5px;width:428px;height:0.6px;background:#ecedee;"></div>
<svg style="left:171.3px;top:307.90px" width="2.3" height="3.6" viewBox="0 0 2.3 3.6"><path d="M0 0 L2.3 1.8 L0 3.6 Z" fill="#333"/></svg>
<div class="t" style="left:176.6px;top:307px;font-size:5.55px;color:#3e4246;letter-spacing:-0.1px;-webkit-text-stroke:0.08px currentColor">Time, Day, Meeting, Conference, Trading</div>
<div class="a" style="left:422px;top:306.0px;width:15.3px;height:7.6px;background:#c4e2f8;"></div>
<div class="t" style="left:425px;top:309px;font-size:4.8px;color:#164872;font-weight:bold;">26,865</div>
<div class="t" style="left:515.5px;width:60px;text-align:right;top:308px;font-size:4.8px;color:#777c81;-webkit-text-stroke:0">6%</div>
<div class="a" style="left:163.3px;top:316.2px;width:428px;height:0.6px;background:#ecedee;"></div>
<svg style="left:171.3px;top:322.80px" width="2.3" height="3.6" viewBox="0 0 2.3 3.6"><path d="M0 0 L2.3 1.8 L0 3.6 Z" fill="#333"/></svg>
<div class="t" style="left:176.6px;top:322px;font-size:5.55px;color:#3e4246;letter-spacing:-0.1px;-webkit-text-stroke:0.08px currentColor">Obligations, Agreement, Arbitration, Respect, Terms, Parties, Issues, Notice, Section</div>
<div class="a" style="left:422px;top:320.9px;width:14px;height:7.6px;background:#c4e2f8;"></div>
<div class="t" style="left:425px;top:323px;font-size:4.8px;color:#164872;font-weight:bold;">25,392</div>
<div class="t" style="left:515.5px;width:60px;text-align:right;top:323px;font-size:4.8px;color:#777c81;-webkit-text-stroke:0">6%</div>
<div class="a" style="left:163.3px;top:331.3px;width:428px;height:0.6px;background:#ecedee;"></div>
<svg style="left:171.3px;top:337.50px" width="2.3" height="3.6" viewBox="0 0 2.3 3.6"><path d="M0 0 L2.3 1.8 L0 3.6 Z" fill="#333"/></svg>
<div class="t" style="left:176.6px;top:337px;font-size:5.55px;color:#3e4246;letter-spacing:-0.1px;-webkit-text-stroke:0.08px currentColor">Company, Business, Price, Market, Energy, Gas, Power, State</div>
<div class="a" style="left:422px;top:335.6px;width:12.7px;height:7.6px;background:#c4e2f8;"></div>
<div class="t" style="left:425px;top:338px;font-size:4.8px;color:#164872;font-weight:bold;">22,259</div>
<div class="t" style="left:515.5px;width:60px;text-align:right;top:338px;font-size:4.8px;color:#777c81;-webkit-text-stroke:0">5%</div>
<div class="a" style="left:163.3px;top:346px;width:428px;height:0.6px;background:#ecedee;"></div>
<svg style="left:171.3px;top:352.50px" width="2.3" height="3.6" viewBox="0 0 2.3 3.6"><path d="M0 0 L2.3 1.8 L0 3.6 Z" fill="#333"/></svg>
<div class="t" style="left:176.6px;top:352px;font-size:5.55px;color:#3e4246;letter-spacing:-0.1px;-webkit-text-stroke:0.08px currentColor">Email, Case, Time, Message, Information, Mail, Meeting, Summer</div>
<div class="a" style="left:422px;top:350.6px;width:9.5px;height:7.6px;background:#c4e2f8;"></div>
<div class="t" style="left:425px;top:353px;font-size:4.8px;color:#164872;font-weight:bold;">15,483</div>
<div class="t" style="left:515.5px;width:60px;text-align:right;top:353px;font-size:4.8px;color:#777c81;-webkit-text-stroke:0">4%</div>
<div class="a" style="left:163.3px;top:361.3px;width:428px;height:0.6px;background:#ecedee;"></div>
<svg style="left:171.3px;top:368.00px" width="2.3" height="3.6" viewBox="0 0 2.3 3.6"><path d="M0 0 L2.3 1.8 L0 3.6 Z" fill="#333"/></svg>
<div class="t" style="left:176.6px;top:367px;font-size:5.55px;color:#3e4246;letter-spacing:-0.1px;-webkit-text-stroke:0.08px currentColor">Costs, Customers, Price, Time, Market, Capacity, Energy, Rate, Term, Day</div>
<div class="a" style="left:422px;top:366.1px;width:6px;height:7.6px;background:#c4e2f8;"></div>
<div class="t" style="left:425px;top:369px;font-size:4.8px;color:#164872;font-weight:bold;">9,231</div>
<div class="t" style="left:515.5px;width:60px;text-align:right;top:369px;font-size:4.8px;color:#777c81;-webkit-text-stroke:0">2%</div>
<div class="t" style="left:168.2px;top:403px;font-size:7.1px;color:#222;letter-spacing:-0.15px">Custodians</div>
<div class="t" style="left:307.4px;width:60px;text-align:right;top:402px;font-size:7px;color:#9a9fa4;">132</div>
<div class="a" style="left:162.5px;top:411.1px;width:210px;height:0.7px;background:#dfe2e5;"></div>
<div class="t" style="left:168.2px;top:423px;font-size:5.3px;color:#333;">Sara Shackleton</div>
<div class="a" style="left:237.5px;top:421.9px;width:108.8px;height:6.4px;background:#c4e0f8;"></div>
<div class="t" style="left:240px;top:424px;font-size:4.8px;color:#164872;font-weight:bold;">30,396</div>
<div class="t" style="left:306.5px;width:60px;text-align:right;top:424px;font-size:4.8px;color:#777c81;-webkit-text-stroke:0">6%</div>
<div class="t" style="left:390.3px;top:403px;font-size:7.1px;color:#222;letter-spacing:-0.15px">Doc Types</div>
<div class="t" style="left:527.9px;width:60px;text-align:right;top:402px;font-size:7px;color:#9a9fa4;">28</div>
<div class="a" style="left:383.8px;top:411.1px;width:210.2px;height:0.7px;background:#dfe2e5;"></div>
<div class="t" style="left:390.3px;top:423px;font-size:5.3px;color:#333;">Email</div>
<div class="a" style="left:458.1px;top:421.9px;width:108.8px;height:6.4px;background:#c4e0f8;"></div>
<div class="t" style="left:460.8px;top:424px;font-size:4.8px;color:#164872;font-weight:bold;">339,868</div>
<div class="t" style="left:527.9px;width:60px;text-align:right;top:424px;font-size:4.8px;color:#777c81;-webkit-text-stroke:0">75%</div>
<div class="a" style="left:611.8px;top:42px;width:156.2px;height:20px;background:#e8e9eb;"></div>
<div class="a" style="left:611.8px;top:62.6px;width:156.2px;height:369px;background:#fff;"></div>
<div class="a" style="left:615.6px;top:45.4px;width:18.2px;height:14.4px;background:#dbe0e4;border-radius:1.5px"></div>
<svg style="left:619px;top:47px" width="12" height="11" viewBox="0 0 12 11"><path d="M0.8 10 V5.6 Q0.8 1.3 4.9 1.3 Q8.9 1.3 8.9 5.6 Q8.9 10 4.9 10 Z" fill="#21a9a6"/><path d="M8.2 0.4 L10.6 2.9 L8.2 5.4 L5.8 2.9 Z" fill="#ee6a75" opacity="0.85"/><path d="M9.5 10 L10.5 8.3 L11.5 10 Z" fill="#666"/></svg>
<div class="t" style="left:636.7px;top:50px;font-size:6.4px;color:#222;letter-spacing:-0.3px">Cecilia</div>
<div class="a" style="left:656.8px;top:48.9px;width:13.9px;height:7.4px;background:transparent;border:0.6px solid #a4a9ae;border-radius:1.4px"></div>
<div class="t" style="left:659.2px;top:51px;font-size:4.5px;color:#80858a;">Beta</div>
<svg style="left:740.2px;top:51.949999999999996px" width="8.299999999999999" height="1.7"><circle cx="0.85" cy="0.85" r="0.85" fill="#4c5054"/><circle cx="4.1499999999999995" cy="0.85" r="0.85" fill="#4c5054"/><circle cx="7.449999999999999" cy="0.85" r="0.85" fill="#4c5054"/></svg>
<svg style="left:756.8px;top:50.4px" width="5" height="5" viewBox="0 0 5 5"><path d="M0.4 0.4 L4.6 4.6 M4.6 0.4 L0.4 4.6" stroke="#555" stroke-width="0.6"/></svg>
<div class="a" style="left:759.8px;top:62.6px;width:6.8px;height:311.6px;background:#f2f3f4;"></div>
<div class="a" style="left:620.2px;top:69.2px;width:128.3px;height:65.4px;background:#e7e8ea;border-radius:7px"></div>
<svg style="left:615.3px;top:127px" width="10" height="8" viewBox="0 0 10 8"><path d="M5 0 V5 Q4 7.4 0.4 7.6 Q6 8.4 9.6 5 Z" fill="#e7e8ea"/></svg>
<svg style="left:630.2px;top:73px" width="8" height="8" viewBox="0 0 8 8"><path d="M2.2 3.4 L1.6 1.6 Q1.9 0.9 2.5 1.4 L3.1 2.6 L3 0.8 Q3.5 0.1 4 0.8 L4.3 2.5 L4.7 0.9 Q5.3 0.4 5.6 1.1 L5.5 2.9 L6.2 1.9 Q6.9 1.7 6.8 2.5 L6.4 5.2 Q6 7.2 4.2 7.2 Q2.6 7.2 1.8 5.8 L0.6 4.2 Q0.7 3.3 1.5 3.6 Z" fill="#f7a81e"/><path d="M2.4 4.4 Q3.6 3.8 4.8 4.6" stroke="#d98a12" stroke-width="0.4" fill="none"/></svg>
<div class="t" style="left:640.7px;top:75px;font-size:5.85px;color:#222;">Hey Adam!</div>
<div class="t" style="left:630.3px;top:86px;font-size:5.78px;color:#222;letter-spacing:-0.04px">I'm Cecilia — an AI designed to help you</div>
<div class="t" style="left:630.3px;top:93px;font-size:5.78px;color:#222;letter-spacing:-0.04px">with document exploration and analysis.</div>
<div class="t" style="left:630.3px;top:104px;font-size:5.78px;color:#222;letter-spacing:-0.04px">You can ask me about this corpus using</div>
<div class="t" style="left:630.3px;top:111px;font-size:5.78px;color:#222;letter-spacing:-0.04px">the input at the bottom of this section.</div>
<div class="t" style="left:672.3px;top:123px;font-size:5.8px;color:#2b7bb9;">Learn more about Cecilia ↗</div>
<div class="a" style="left:617.8px;top:145px;width:135px;height:0.6px;background:#dfe2e5;"></div>
<div class="a" style="left:625.2px;top:155.9px;width:127.4px;height:21.9px;background:#3380d6;border-radius:7px"></div>
<svg style="left:747.5px;top:170px" width="10" height="8" viewBox="0 0 10 8"><path d="M5 0 V5 Q6 7.4 9.6 7.6 Q4 8.4 0.4 5 Z" fill="#3380d6"/></svg>
<div class="t" style="left:634px;top:161px;font-size:5.8px;color:#eef4fc;font-weight:bold;letter-spacing:-0.1px;-webkit-text-stroke:0">What did Sara Shackleton do from day to</div>
<div class="t" style="left:634px;top:168px;font-size:5.8px;color:#eef4fc;font-weight:bold;letter-spacing:-0.1px;-webkit-text-stroke:0">day at Enron Corp.?</div>
<div class="t" style="left:646px;width:80px;text-align:center;top:182px;font-size:5.1px;color:#9a9fa4;">Mar 21, 2023 &nbsp;3:59 PM</div>
<div class="a" style="left:621px;top:191.9px;width:127px;height:173.8px;background:#e7e8ea;border-radius:7px"></div>
<svg style="left:616px;top:358px" width="10" height="8" viewBox="0 0 10 8"><path d="M5 0 V5 Q4 7.4 0.4 7.6 Q6 8.4 9.6 5 Z" fill="#e7e8ea"/></svg>
<div class="t" style="left:628.9px;top:197px;font-size:5.78px;color:#222;letter-spacing:-0.04px">Sara Shackleton was responsible for</div>
<div class="t" style="left:628.9px;top:205px;font-size:5.78px;color:#222;letter-spacing:-0.04px">building a gas trading business for Enron in</div>
<div class="t" style="left:628.9px;top:212px;font-size:5.78px;color:#222;letter-spacing:-0.04px">Europe.</div>
<div class="t" style="left:628.9px;top:224px;font-size:5.78px;color:#222;letter-spacing:-0.04px">She held various positions within the</div>
<div class="t" style="left:628.9px;top:231px;font-size:5.78px;color:#222;letter-spacing:-0.04px">company, including manager of corporate</div>
<div class="t" style="left:628.9px;top:238px;font-size:5.78px;color:#222;letter-spacing:-0.04px">travel for Enron Property and Services</div>
<div class="t" style="left:628.9px;top:246px;font-size:5.78px;color:#222;letter-spacing:-0.04px">Corp., specialist in Enron Global Asset</div>
<div class="t" style="left:628.9px;top:253px;font-size:5.78px;color:#222;letter-spacing:-0.04px">Operations, and heading up application</div>
<div class="t" style="left:628.9px;top:260px;font-size:5.78px;color:#222;letter-spacing:-0.04px">development for Enron Europe.</div>
<div class="t" style="left:628.9px;top:272px;font-size:5.78px;color:#222;letter-spacing:-0.04px">According to her resume, her daily duties</div>
<div class="t" style="left:628.9px;top:279px;font-size:5.78px;color:#222;letter-spacing:-0.04px">included "building a gas trading business</div>
<div class="t" style="left:628.9px;top:287px;font-size:5.78px;color:#222;letter-spacing:-0.04px">for Enron in Europe, managing corporate</div>
<div class="t" style="left:628.9px;top:294px;font-size:5.78px;color:#222;letter-spacing:-0.04px">travel for Enron Property and Services</div>
<div class="t" style="left:628.9px;top:301px;font-size:5.78px;color:#222;letter-spacing:-0.04px">Corp., leading the ISO Policy Team, directing</div>
<div class="t" style="left:628.9px;top:309px;font-size:5.78px;color:#222;letter-spacing:-0.04px">Transmission Policy and Pricing, and</div>
<div class="t" style="left:628.9px;top:316px;font-size:5.78px;color:#222;letter-spacing:-0.04px">successfully leading both trading and</div>
<div class="t" style="left:628.9px;top:323px;font-size:5.78px;color:#222;letter-spacing:-0.04px">origination organizations."</div>
<svg style="left:630px;top:336.50px" width="2.3" height="3.6" viewBox="0 0 2.3 3.6"><path d="M0 0 L2.3 1.8 L0 3.6 Z" fill="#1d4f7a"/></svg>
<div class="t" style="left:633.9px;top:336px;font-size:5.65px;color:#1d4f7a;">Direct sources (3)</div>
<svg style="left:737.3px;top:335.3px" width="7" height="5.5" viewBox="0 0 7 5.5"><circle cx="2.2" cy="2.4" r="1.8" fill="none" stroke="#8a8f94" stroke-width="0.55"/><path d="M3.5 3.7 L4.8 5.2" stroke="#8a8f94" stroke-width="0.6"/><path d="M5.6 0.3 V2.3 M4.6 1.3 H6.6" stroke="#8a8f94" stroke-width="0.5"/></svg>
<svg style="left:630px;top:348.50px" width="2.3" height="3.6" viewBox="0 0 2.3 3.6"><path d="M0 0 L2.3 1.8 L0 3.6 Z" fill="#333"/></svg>
<div class="t" style="left:633.9px;top:348px;font-size:5.65px;color:#333;">Related excerpts (2)</div>
<svg style="left:737.3px;top:347.3px" width="7" height="5.5" viewBox="0 0 7 5.5"><circle cx="2.2" cy="2.4" r="1.8" fill="none" stroke="#8a8f94" stroke-width="0.55"/><path d="M3.5 3.7 L4.8 5.2" stroke="#8a8f94" stroke-width="0.6"/><path d="M5.6 0.3 V2.3 M4.6 1.3 H6.6" stroke="#8a8f94" stroke-width="0.5"/></svg>
<svg style="left:737.5px;top:359.75px" width="6.1" height="1.3"><circle cx="0.65" cy="0.65" r="0.65" fill="#9a9fa4"/><circle cx="3.05" cy="0.65" r="0.65" fill="#9a9fa4"/><circle cx="5.45" cy="0.65" r="0.65" fill="#9a9fa4"/></svg>
<div class="a" style="left:611.8px;top:374.2px;width:147px;height:0.6px;background:#dfe2e5;"></div>
<div class="a" style="left:620.4px;top:383.9px;width:141.6px;height:21.2px;background:#fff;border:0.9px solid #86bccb;border-radius:2px;box-shadow:0 0 1.2px rgba(90,170,190,.5)"></div>
<div class="a" style="left:624.5px;top:387.2px;width:0.7px;height:8.6px;background:#333;"></div>
<svg style="left:750.6px;top:395.3px" width="7" height="6" viewBox="0 0 7 6"><path d="M0.5 0.5 L6.5 3 L0.5 5.5 L1.6 3 Z" fill="#b4b9be" stroke="#b4b9be" stroke-width="0.4" stroke-linejoin="round"/></svg>
<div class="t" style="left:702.8px;width:60px;text-align:right;top:420px;font-size:5.3px;color:#9a9fa4;">Leave feedback</div>
<div class="a" style="left:766.6px;top:21px;width:1.4px;height:410px;background:#cdd0d3;"></div>
<div class="a" style="left:0px;top:430px;width:768px;height:1px;background:#cdcdcd;"></div>
<div class="a" style="left:0px;top:431px;width:768px;height:1px;background:#6a6a6a;"></div>
</div></body></html>
